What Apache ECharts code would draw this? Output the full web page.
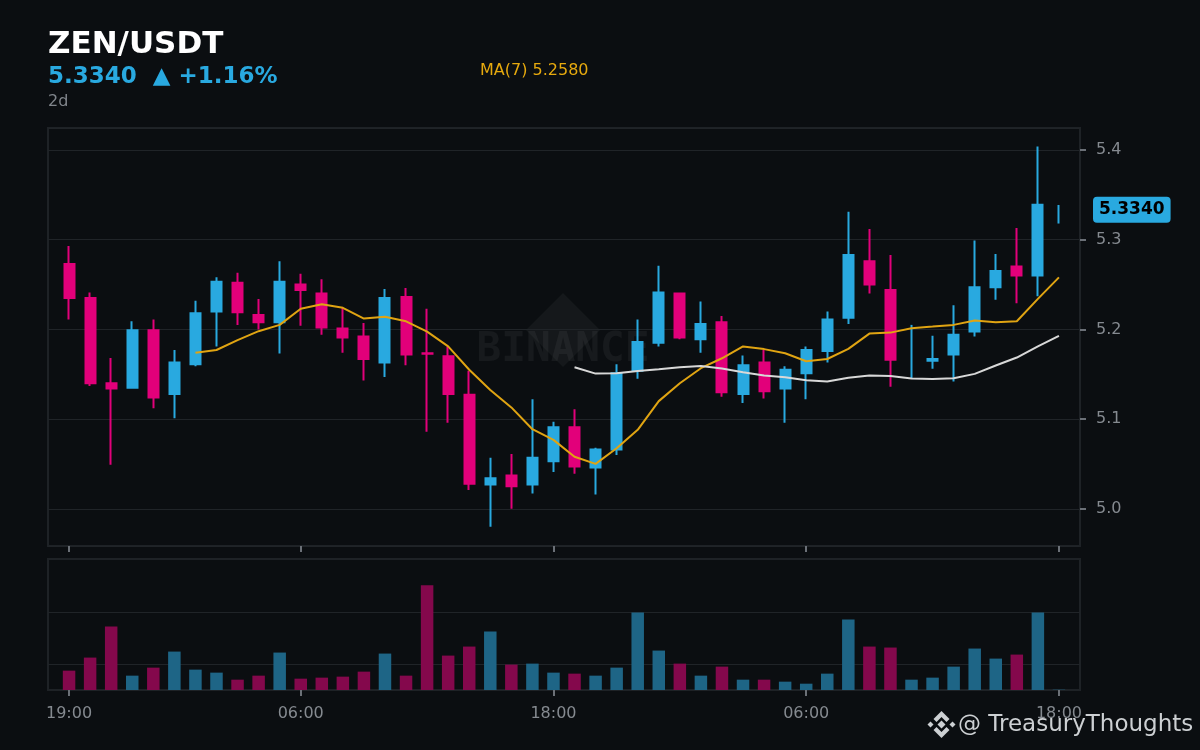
<!DOCTYPE html>
<html><head><meta charset="utf-8">
<script src="https://cdn.jsdelivr.net/npm/echarts@6/dist/echarts.min.js"></script>
<style>html,body{margin:0;padding:0;background:#0b0e11;}#c{width:1200px;height:750px;}</style>
</head><body><div id="c"></div>
<script>
const times = ['19:00','20:00','21:00','22:00','23:00','00:00','01:00','02:00','03:00','04:00','05:00','06:00',
  '07:00','08:00','09:00','10:00','11:00','12:00','13:00','14:00','15:00','16:00','17:00','18:00',
  '19:00','20:00','21:00','22:00','23:00','00:00','01:00','02:00','03:00','04:00','05:00','06:00',
  '07:00','08:00','09:00','10:00','11:00','12:00','13:00','14:00','15:00','16:00','17:00','18:00'];
const opens  = [5.273,5.235,5.140,5.135,5.199,5.128,5.161,5.220,5.252,5.216,5.208,5.250,5.240,5.201,5.192,5.163,
  5.236,5.1733,5.170,5.127,5.027,5.037,5.027,5.053,5.091,5.046,5.066,5.154,5.185,5.240,5.189,5.208,
  5.128,5.163,5.134,5.151,5.176,5.213,5.276,5.244,5.1450,5.165,5.172,5.1975,5.247,5.270,5.260,5.3335];
const highs  = [5.293,5.241,5.168,5.209,5.211,5.177,5.232,5.258,5.263,5.234,5.276,5.262,5.256,5.224,5.207,5.245,
  5.246,5.223,5.181,5.154,5.057,5.061,5.122,5.097,5.111,5.068,5.161,5.211,5.271,5.241,5.231,5.215,
  5.171,5.177,5.159,5.181,5.220,5.331,5.312,5.283,5.205,5.193,5.227,5.299,5.284,5.313,5.404,5.3387];
const lows   = [5.211,5.137,5.049,5.134,5.112,5.101,5.159,5.181,5.205,5.200,5.173,5.204,5.194,5.174,5.143,5.147,
  5.160,5.086,5.096,5.021,4.980,5.000,5.017,5.041,5.039,5.016,5.060,5.145,5.181,5.189,5.174,5.125,
  5.118,5.123,5.096,5.122,5.163,5.206,5.240,5.136,5.1448,5.156,5.142,5.192,5.233,5.229,5.237,5.318];
const closes = [5.235,5.140,5.134,5.199,5.124,5.163,5.218,5.253,5.219,5.208,5.253,5.244,5.202,5.191,5.167,5.235,
  5.172,5.1727,5.128,5.028,5.034,5.025,5.057,5.091,5.047,5.066,5.151,5.186,5.241,5.191,5.206,5.130,
  5.160,5.131,5.155,5.177,5.211,5.283,5.250,5.166,5.1452,5.167,5.194,5.247,5.265,5.260,5.339,5.334];
const volumes = [748,1252,2453,554,864,1484,787,671,399,554,1446,438,477,516,709,1407,
  554,4043,1329,1678,2260,981,1019,671,632,554,864,2996,1523,1019,554,903,
  399,399,322,244,632,2725,1678,1640,399,477,903,1601,1213,1368,2996,12];
const ma7Start = 6;
const ma7 = [5.174,5.177,5.188,5.198,5.205,5.223,5.228,5.224,5.212,5.214,5.209,5.1975,5.181,5.155,5.1325,5.113,
  5.0887,5.0768,5.058,5.050,5.0675,5.088,5.120,5.140,5.1567,5.1678,5.181,5.178,5.1734,5.1645,5.167,5.1782,
  5.1953,5.1964,5.2013,5.2031,5.205,5.210,5.208,5.209,5.234,5.258];
const ma25Start = 24;
const ma25 = [5.1578,5.1507,5.151,5.1537,5.1556,5.1578,5.1593,5.1563,5.1522,5.1485,5.1467,5.1433,5.1418,5.146,
  5.1485,5.148,5.1452,5.1448,5.1456,5.1504,5.1597,5.1686,5.181,5.1927];
const tickCandles = [0, 11, 23, 35, 47];
const thinCandles = [40, 47];
const volGuides = [1000, 3000];
const pair = 'ZEN/USDT';
const changePct = '+1.16%';
const period = '2d';

const UP = '#29a9e0', DOWN = '#e2007a';
const UPV = '#1e6586', DOWNV = '#84084c';
const cats = [''].concat(times, ['']);
const pad = a => ['-'].concat(a, ['-']);
const ohlc = times.map((t, i) => [opens[i], closes[i], lows[i], highs[i]]);
const mainData = pad(ohlc.map((d, i) => thinCandles.includes(i) ? '-' : d));
const thinData = pad(ohlc.map((d, i) => thinCandles.includes(i) ? d : '-'));
const volData = pad(volumes.map((v, i) => ({ value: v, itemStyle: { color: closes[i] >= opens[i] ? UPV : DOWNV } })));
const lineData = (arr, start) => pad(times.map((t, i) => i >= start ? arr[i - start] : '-'));
const last = closes[closes.length - 1];
const tickFn = (idx) => tickCandles.includes(idx - 1);
const candleStyle = { color: UP, color0: DOWN, borderColor: UP, borderColor0: DOWN, borderWidth: 2 };
const tickStyle = { show: true, interval: tickFn, length: 6, lineStyle: { color: '#6b7077', width: 2 } };
const font = '"DejaVu Sans"';

const chart = echarts.init(document.getElementById('c'));
chart.setOption({
  animation: false,
  backgroundColor: '#0b0e11',
  textStyle: { fontFamily: 'DejaVu Sans' },
  grid: [
    { left: 48, right: 120, top: 128, height: 418, show: true, borderColor: '#1e2226', borderWidth: 2, backgroundColor: 'transparent' },
    { left: 48, right: 120, top: 559, height: 131, show: true, borderColor: '#1e2226', borderWidth: 2, backgroundColor: 'transparent' }
  ],
  xAxis: [
    { type: 'category', gridIndex: 0, data: cats, boundaryGap: false, axisLine: { show: false },
      axisTick: tickStyle, axisLabel: { show: false }, splitLine: { show: false } },
    { type: 'category', gridIndex: 1, data: cats, boundaryGap: false, axisLine: { show: false },
      axisTick: tickStyle, axisLabel: { show: true, interval: tickFn, color: '#858a90', fontSize: 16, margin: 16 },
      splitLine: { show: false } }
  ],
  yAxis: [
    { type: 'value', gridIndex: 0, position: 'right', min: 4.9585, max: 5.4245, splitNumber: 5,
      axisLine: { show: false }, axisTick: { show: true, length: 6, lineStyle: { color: '#6b7077', width: 2 } },
      axisLabel: { color: '#858a90', fontSize: 16, margin: 16, formatter: v => v.toFixed(1), showMinLabel: false, showMaxLabel: false },
      splitLine: { show: true, lineStyle: { color: '#202428', width: 1 } } },
    { type: 'value', gridIndex: 1, min: 0, max: 5060, axisLine: { show: false }, axisTick: { show: false },
      axisLabel: { show: false }, splitLine: { show: false } }
  ],
  series: [
    { type: 'candlestick', xAxisIndex: 0, yAxisIndex: 0, data: mainData, barWidth: 10.5, itemStyle: candleStyle,
      markLine: { silent: true, symbol: 'none', data: [{ yAxis: last }], lineStyle: { color: 'rgba(0,0,0,0)', width: 1, type: 'solid' },
        label: { show: true, position: 'end', distance: 13, offset: [0, -3], formatter: last.toFixed(4), color: '#000000', backgroundColor: UP,
          fontWeight: 'bold', fontSize: 17, fontFamily: 'DejaVu Sans', padding: [5, 6, 4, 6], borderRadius: 4 } } },
    { type: 'candlestick', xAxisIndex: 0, yAxisIndex: 0, data: thinData, barWidth: 0.5, itemStyle: candleStyle },
    { type: 'line', xAxisIndex: 0, yAxisIndex: 0, data: lineData(ma7, ma7Start), symbol: 'none', z: 3,
      lineStyle: { color: '#e0a412', width: 2 } },
    { type: 'line', xAxisIndex: 0, yAxisIndex: 0, data: lineData(ma25, ma25Start), symbol: 'none', z: 3,
      lineStyle: { color: '#d8d8d8', width: 2 } },
    { type: 'bar', xAxisIndex: 1, yAxisIndex: 1, data: volData, barWidth: 12.5, z: 6,
      markLine: { silent: true, z: 1, symbol: 'none', data: volGuides.map(v => ({ yAxis: v })),
        lineStyle: { color: '#202428', width: 1, type: 'solid' }, label: { show: false } } }
  ],
  graphic: [
    { type: 'polygon', silent: true, z: 0, shape: { points: [[563, 293], [600, 330], [563, 367], [526, 330]] }, style: { fill: '#15181b' } },
    { type: 'text', silent: true, z: 0, x: 563, y: 350, style: { text: 'BINANCE', fill: 'rgba(255,255,255,0.05)',
      font: 'bold 41px "DejaVu Sans Mono"', align: 'center', verticalAlign: 'middle', textAlign: 'center', textVerticalAlign: 'middle' } },
    { type: 'text', x: 48, y: 45, style: { text: pair, fill: '#ffffff', font: 'bold 31px ' + font, verticalAlign: 'middle', textVerticalAlign: 'middle' } },
    { type: 'text', x: 48, y: 77, style: { text: last.toFixed(4) + '  \u25B2 ' + changePct, fill: UP, font: 'bold 23px ' + font, verticalAlign: 'middle', textVerticalAlign: 'middle' } },
    { type: 'text', x: 48, y: 102, style: { text: period, fill: '#80858b', font: '16px ' + font, verticalAlign: 'middle', textVerticalAlign: 'middle' } },
    { type: 'text', x: 480, y: 71, style: { text: 'MA(7) ' + ma7[ma7.length - 1].toFixed(4), fill: '#e6a90e', font: '16px ' + font, verticalAlign: 'middle', textVerticalAlign: 'middle' } },
    { type: 'polygon', z: 100, shape: { points: [[941.5, 711], [949.5, 719], [946.5, 722], [941.5, 717], [936.5, 722], [933.5, 719]] }, style: { fill: '#cdd0d3' } },
    { type: 'polygon', z: 100, shape: { points: [[941.5, 738], [949.5, 730], [946.5, 727], [941.5, 732], [936.5, 727], [933.5, 730]] }, style: { fill: '#cdd0d3' } },
    { type: 'polygon', z: 100, shape: { points: [[941.5, 720.5], [945.5, 724.5], [941.5, 728.5], [937.5, 724.5]] }, style: { fill: '#cdd0d3' } },
    { type: 'polygon', z: 100, shape: { points: [[930.5, 721.5], [933.5, 724.5], [930.5, 727.5], [927.5, 724.5]] }, style: { fill: '#cdd0d3' } },
    { type: 'polygon', z: 100, shape: { points: [[952.5, 721.5], [955.5, 724.5], [952.5, 727.5], [949.5, 724.5]] }, style: { fill: '#cdd0d3' } },
    { type: 'text', z: 100, x: 958, y: 725, style: { text: '@ TreasuryThoughts', fill: '#cdd0d3', font: '23px ' + font, verticalAlign: 'middle', textVerticalAlign: 'middle' } }
  ]
});
</script></body></html>
